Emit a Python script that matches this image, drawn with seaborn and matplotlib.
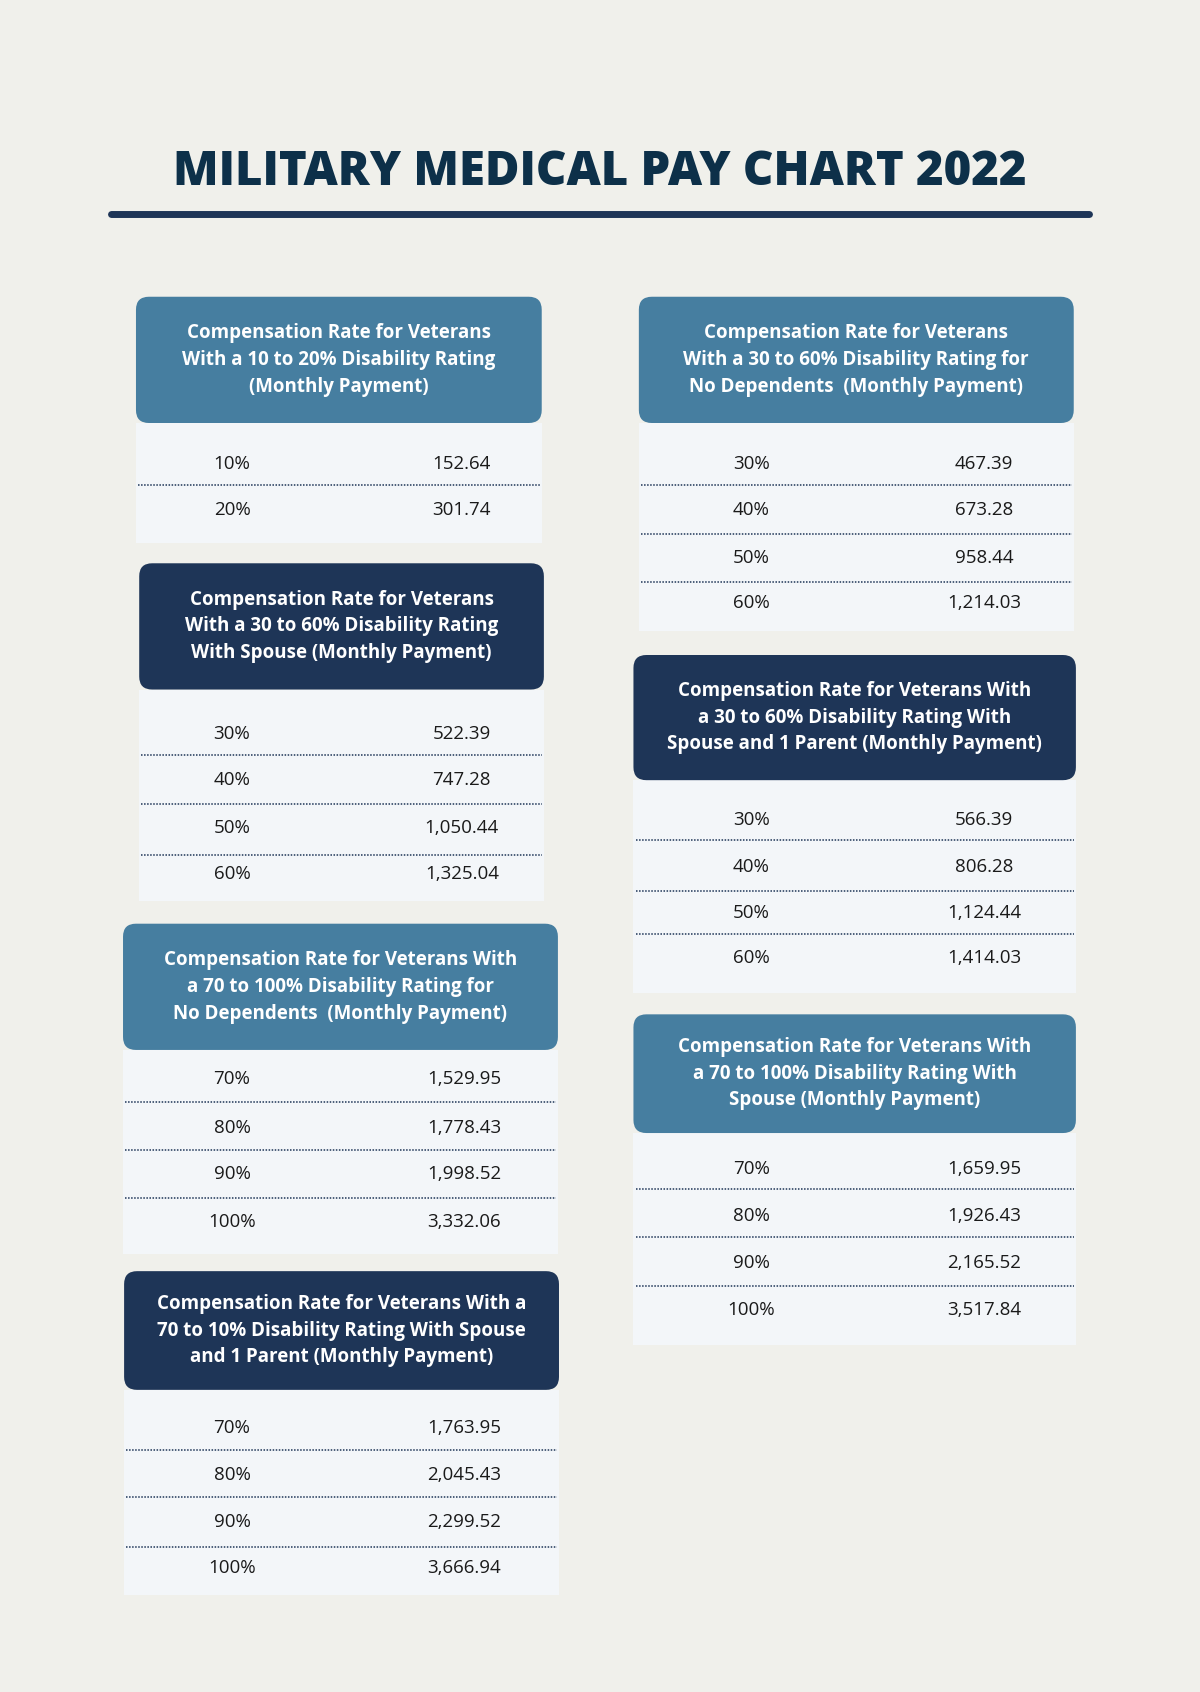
import matplotlib
matplotlib.use("Agg")
import matplotlib.pyplot as plt
import seaborn as sns
from matplotlib.patches import FancyBboxPatch, Rectangle

sns.set_theme(style="white")
plt.rcParams['font.family'] = ['Open Sans', 'DejaVu Sans']

title = "MILITARY MEDICAL PAY CHART 2022"

p1_title = "Compensation Rate for Veterans\nWith a 10 to 20% Disability Rating\n(Monthly Payment)"
p1_labels = ["10%", "20%"]
p1_values = ["152.64", "301.74"]

p2_title = "Compensation Rate for Veterans\nWith a 30 to 60% Disability Rating\nWith Spouse (Monthly Payment)"
p2_labels = ["30%", "40%", "50%", "60%"]
p2_values = ["522.39", "747.28", "1,050.44", "1,325.04"]

p3_title = "Compensation Rate for Veterans With\na 70 to 100% Disability Rating for\nNo Dependents  (Monthly Payment)"
p3_labels = ["70%", "80%", "90%", "100%"]
p3_values = ["1,529.95", "1,778.43", "1,998.52", "3,332.06"]

p4_title = "Compensation Rate for Veterans With a\n70 to 10% Disability Rating With Spouse\nand 1 Parent (Monthly Payment)"
p4_labels = ["70%", "80%", "90%", "100%"]
p4_values = ["1,763.95", "2,045.43", "2,299.52", "3,666.94"]

p5_title = "Compensation Rate for Veterans\nWith a 30 to 60% Disability Rating for\nNo Dependents  (Monthly Payment)"
p5_labels = ["30%", "40%", "50%", "60%"]
p5_values = ["467.39", "673.28", "958.44", "1,214.03"]

p6_title = "Compensation Rate for Veterans With\na 30 to 60% Disability Rating With\nSpouse and 1 Parent (Monthly Payment)"
p6_labels = ["30%", "40%", "50%", "60%"]
p6_values = ["566.39", "806.28", "1,124.44", "1,414.03"]

p7_title = "Compensation Rate for Veterans With\na 70 to 100% Disability Rating With\nSpouse (Monthly Payment)"
p7_labels = ["70%", "80%", "90%", "100%"]
p7_values = ["1,659.95", "1,926.43", "2,165.52", "3,517.84"]

MED = "#467ea0"
DARK = "#1e3557"
ROWBG = "#f3f6f9"
BG = "#f0f0eb"

fig = plt.figure(figsize=(12, 16.92), dpi=100)
fig.patch.set_facecolor(BG)
ax = fig.add_axes([0, 0, 1, 1])
ax.set_xlim(0, 1112)
ax.set_ylim(1568, 0)
ax.axis("off")
ax.set_facecolor(BG)

ax.text(556, 160, title, ha="center", va="center", fontsize=34, fontweight="heavy", color="#0d3049")
ax.plot([103, 1009], [198, 198], color=DARK, lw=5, solid_capstyle="round")

# layout: (title, labels, values, x0, x1, header_top, header_bottom, row_bottom, row_ys, sep_ys, color, label_x, value_x)
panels = [
    (p1_title, p1_labels, p1_values, 126, 502, 275, 392, 503, [430, 473], [449], MED, 215, 428),
    (p2_title, p2_labels, p2_values, 129, 504, 522, 639, 835, [680, 723, 767, 810], [700, 745, 792], DARK, 215, 428),
    (p3_title, p3_labels, p3_values, 114, 517, 856, 973, 1162, [1000, 1045, 1088, 1132], [1021, 1066, 1110], MED, 215, 430),
    (p4_title, p4_labels, p4_values, 115, 518, 1178, 1288, 1478, [1323, 1367, 1410, 1453], [1344, 1387, 1434], DARK, 215, 430),
    (p5_title, p5_labels, p5_values, 592, 995, 275, 392, 585, [430, 473, 517, 559], [449, 495, 539], MED, 696, 912),
    (p6_title, p6_labels, p6_values, 587, 997, 607, 723, 920, [760, 803, 846, 888], [778, 826, 866], DARK, 696, 912),
    (p7_title, p7_labels, p7_values, 587, 997, 940, 1050, 1246, [1083, 1127, 1170, 1214], [1102, 1146, 1192], MED, 696, 912),
]

for (t, labs, vals, x0, x1, ht, hb, rb, rys, sys_, col, lx, vx) in panels:
    ax.add_patch(Rectangle((x0, hb), x1 - x0, rb - hb, facecolor=ROWBG, edgecolor="none", zorder=1))
    r = 12
    ax.add_patch(FancyBboxPatch((x0 + r, ht + r), x1 - x0 - 2 * r, hb - ht - 2 * r,
                                boxstyle=f"round,pad={r}", facecolor=col, edgecolor="none", zorder=2))
    ax.text((x0 + x1) / 2, (ht + hb) / 2, t, ha="center", va="center", color="white",
            fontsize=13.5, fontweight="bold", linespacing=1.45, zorder=3)
    for lab, val, y in zip(labs, vals, rys):
        ax.text(lx, y, lab, ha="center", va="center", fontsize=13.5, color="#1a1a1a", zorder=3)
        ax.text(vx, y, val, ha="center", va="center", fontsize=13.5, color="#1a1a1a", zorder=3)
    for y in sys_:
        ax.plot([x0 + 2, x1 - 2], [y, y], color=DARK, lw=1.1, ls=(0, (1, 1)), zorder=3)

fig.savefig("out.png", dpi=100, facecolor=BG)
